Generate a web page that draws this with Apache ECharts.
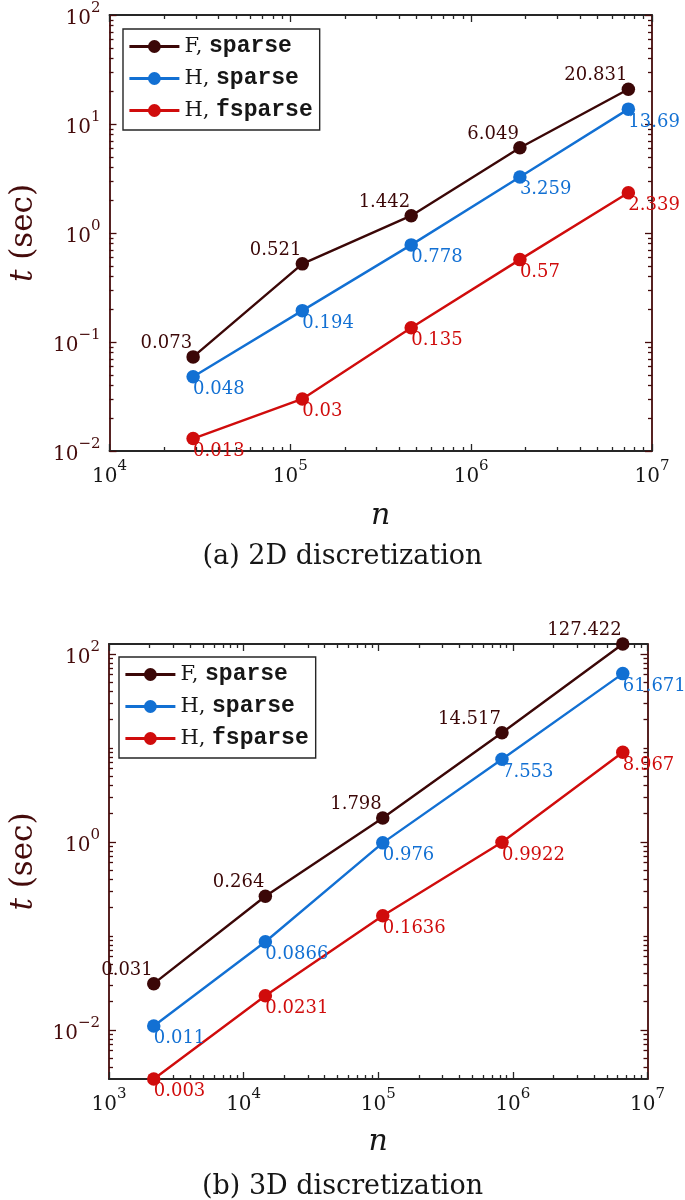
<!DOCTYPE html>
<html>
<head>
<meta charset="utf-8">
<script src="https://cdn.jsdelivr.net/npm/echarts@6/dist/echarts.min.js"></script>
<style>
html,body{margin:0;padding:0;background:#ffffff;}
#chart{width:685px;height:1200px;}
</style>
</head>
<body>
<div id="chart"></div>
<script>
// ---------- data: (a) 2D discretization ----------
const nA = [29000, 116500, 466000, 1860000, 7400000];
const tA_F_sparse  = [0.073, 0.521, 1.442, 6.049, 20.831];
const tA_H_sparse  = [0.048, 0.194, 0.778, 3.259, 13.69];
const tA_H_fsparse = [0.013, 0.03, 0.135, 0.57, 2.339];

// ---------- data: (b) 3D discretization ----------
const nB = [2150, 14500, 108000, 830000, 6550000];
const tB_F_sparse  = [0.031, 0.264, 1.798, 14.517, 127.422];
const tB_H_sparse  = [0.011, 0.0866, 0.976, 7.553, 61.671];
const tB_H_fsparse = [0.003, 0.0231, 0.1636, 0.9922, 8.967];

// ---------- labels / ticks ----------
const seriesNames = ['F, sparse', 'H, sparse', 'H, fsparse'];
const captions = ['(a) 2D discretization', '(b) 3D discretization'];
const xTicksA = [1e4, 1e5, 1e6, 1e7];
const yTicksA = [1e-2, 1e-1, 1, 1e1, 1e2];
const xTicksB = [1e3, 1e4, 1e5, 1e6, 1e7];
const yTicksB = [1e-2, 1, 1e2];
const yExtraMinorB = [1e-1, 1e1];

// ---------- styles ----------
const C_F = '#3b0707';
const C_HS = '#1270d3';
const C_HF = '#d00c0c';
const Y_COLOR = '#450b0b';
const X_COLOR = '#262626';
const SERIF = 'DejaVu Serif';
const MONO = 'Liberation Mono';

function minorTicks(lo, hi, extra) {
  const out = [];
  const k0 = Math.floor(Math.log10(lo)) - 1, k1 = Math.ceil(Math.log10(hi));
  for (let k = k0; k <= k1; k++) {
    for (let m = 2; m <= 9; m++) {
      const v = parseFloat((m * Math.pow(10, k)).toPrecision(6));
      if (v > lo && v < hi) out.push(v);
    }
  }
  return out.concat(extra || []);
}

function powFmt(v) {
  const e = Math.round(Math.log10(v));
  return '{b|10}{s|' + (e < 0 ? '\u2212' + (-e) : String(e)) + '}';
}
function supRich(color) {
  return {
    b: {fontFamily: SERIF, fontSize: 20, color: color, lineHeight: 28, verticalAlign: 'bottom'},
    s: {fontFamily: SERIF, fontSize: 15, color: color, lineHeight: 15, verticalAlign: 'top'}
  };
}

function axisBase(g, min, max, pos, color, ticks, len) {
  return {
    type: 'log', logBase: 10, gridIndex: g, min: min, max: max, position: pos,
    splitLine: {show: false},
    axisLine: {show: true, onZero: false, lineStyle: {color: color, width: 1.8}},
    axisTick: {show: true, inside: true, length: len, customValues: ticks, lineStyle: {color: color, width: 1.3}},
    axisLabel: {show: false}
  };
}

function buildXAxes(g, min, max, majors, nameGap) {
  const minor = minorTicks(min, max);
  const main = axisBase(g, min, max, 'bottom', X_COLOR, majors, 7);
  main.axisLabel = {show: true, customValues: majors, formatter: powFmt, margin: 8, rich: supRich('#161616')};
  main.name = 'n';
  main.nameLocation = 'middle';
  main.nameGap = nameGap;
  main.nameTextStyle = {fontFamily: SERIF, fontStyle: 'italic', fontSize: 30, color: '#161616'};
  const bMinor = axisBase(g, min, max, 'bottom', X_COLOR, minor, 4);
  bMinor.axisLine.show = false;
  const tMajor = axisBase(g, min, max, 'top', X_COLOR, majors, 7);
  const tMinor = axisBase(g, min, max, 'top', X_COLOR, minor, 4);
  tMinor.axisLine.show = false;
  return [main, bMinor, tMajor, tMinor];
}

function buildYAxes(g, min, max, majors, extraMinor, nameGap) {
  const minor = minorTicks(min, max, extraMinor);
  const main = axisBase(g, min, max, 'left', Y_COLOR, majors, 7);
  main.axisLabel = {show: true, customValues: majors, formatter: powFmt, margin: 9, rich: supRich(Y_COLOR)};
  main.name = '{i|t} (sec)';
  main.nameLocation = 'middle';
  main.nameRotate = 90;
  main.nameGap = nameGap;
  main.nameTextStyle = {fontFamily: SERIF, fontSize: 31, color: Y_COLOR,
    rich: {i: {fontFamily: SERIF, fontStyle: 'italic', fontSize: 31, color: Y_COLOR}}};
  const lMinor = axisBase(g, min, max, 'left', Y_COLOR, minor, 4);
  lMinor.axisLine.show = false;
  const rMajor = axisBase(g, min, max, 'right', Y_COLOR, majors, 7);
  const rMinor = axisBase(g, min, max, 'right', Y_COLOR, minor, 4);
  rMinor.axisLine.show = false;
  return [main, lMinor, rMajor, rMinor];
}

function mkSeries(name, xs, ys, color, g, above) {
  return {
    name: name, type: 'line', xAxisIndex: g * 4, yAxisIndex: g * 4,
    data: xs.map(function (x, i) { return [x, ys[i]]; }),
    symbol: 'circle', symbolSize: 13.5, showSymbol: true, clip: false,
    lineStyle: {color: color, width: 2.4},
    itemStyle: {color: color},
    label: {
      show: true,
      formatter: function (p) { return String(p.value[1]); },
      position: above ? 'top' : 'bottom',
      align: above ? 'right' : 'left',
      distance: above ? -2 : -3,
      offset: above ? [-1, 0] : [0, 0],
      color: color, fontFamily: SERIF, fontSize: 18
    },
    z: 5
  };
}

const yMinB = Math.min.apply(null, tB_F_sparse.concat(tB_H_sparse, tB_H_fsparse));
const yMaxB = Math.max.apply(null, tB_F_sparse.concat(tB_H_sparse, tB_H_fsparse));

const legendRich = {
  s: {fontFamily: SERIF, fontSize: 21, color: '#161616'},
  m: {fontFamily: MONO, fontWeight: 'bold', fontSize: 23, color: '#161616'}
};
function legendFmt(n) {
  const i = n.indexOf(', ');
  return '{s|' + n.slice(0, i + 2) + '}{m|' + n.slice(i + 2) + '}';
}
function mkLegend(left, top) {
  return {
    orient: 'vertical', left: left, top: top,
    padding: [6, 7, 8, 5], itemGap: 9, itemWidth: 50, itemHeight: 16,
    backgroundColor: '#ffffff', borderColor: '#262626', borderWidth: 1.4, borderRadius: 0,
    lineStyle: {width: 2.8},
    data: seriesNames, formatter: legendFmt, selectedMode: false,
    textStyle: {rich: legendRich}
  };
}

const option = {
  animation: false,
  backgroundColor: '#ffffff',
  title: [
    {text: captions[0], left: 'center', top: 543, padding: 0,
     textStyle: {fontFamily: SERIF, fontSize: 27, fontWeight: 'normal', color: '#161616'}},
    {text: captions[1], left: 'center', top: 1173, padding: 0,
     textStyle: {fontFamily: SERIF, fontSize: 27, fontWeight: 'normal', color: '#161616'}}
  ],
  legend: [mkLegend(123, 29), mkLegend(119, 657)],
  grid: [
    {left: 109.5, top: 15, width: 542.5, height: 436},
    {left: 106, top: 644, width: 541.5, height: 435}
  ],
  xAxis: [].concat(
    buildXAxes(0, 1e4, 1e7, xTicksA, 50),
    buildXAxes(1, 1e3, 1e7, xTicksB, 48)
  ),
  yAxis: [].concat(
    buildYAxes(0, 1e-2, 1e2, yTicksA, [], 70),
    buildYAxes(1, yMinB, yMaxB, yTicksB, yExtraMinorB, 70)
  ),
  series: [
    mkSeries(seriesNames[0], nA, tA_F_sparse, C_F, 0, true),
    mkSeries(seriesNames[1], nA, tA_H_sparse, C_HS, 0, false),
    mkSeries(seriesNames[2], nA, tA_H_fsparse, C_HF, 0, false),
    mkSeries(seriesNames[0], nB, tB_F_sparse, C_F, 1, true),
    mkSeries(seriesNames[1], nB, tB_H_sparse, C_HS, 1, false),
    mkSeries(seriesNames[2], nB, tB_H_fsparse, C_HF, 1, false)
  ]
};

const chart = echarts.init(document.getElementById('chart'));
chart.setOption(option);
</script>
</body>
</html>
